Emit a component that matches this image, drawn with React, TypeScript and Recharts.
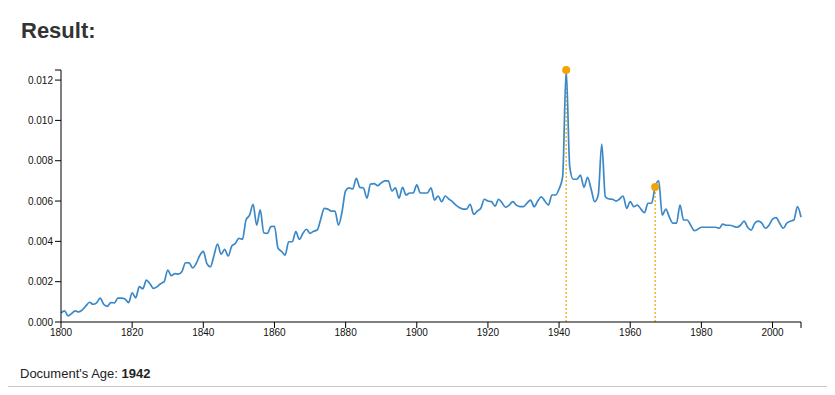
import { LineChart, Line, XAxis, YAxis, ReferenceLine, ReferenceDot } from 'recharts';

const START_YEAR = 1800;

// yearly frequency, 1800..2008
const frequency: number[] = [
  0.00045, 0.00055, 0.0003, 0.00042, 0.00055, 0.0005, 0.0006, 0.0008, 0.00098, 0.00088,
  0.00095, 0.00118, 0.00088, 0.00078, 0.00096, 0.00095, 0.00118, 0.00118, 0.00114, 0.00096,
  0.00145, 0.0012, 0.00175, 0.00165, 0.00208, 0.0019, 0.00167, 0.00175, 0.0019, 0.002,
  0.00258, 0.0023, 0.0024, 0.00237, 0.0025, 0.00294, 0.00293, 0.00268, 0.0029, 0.0033,
  0.0035, 0.0029, 0.00274, 0.0033, 0.00387, 0.00336, 0.0036, 0.00327, 0.00377, 0.0039,
  0.00415, 0.0041, 0.00506, 0.0053, 0.00584, 0.0048, 0.00556, 0.00443, 0.0044, 0.00473,
  0.00475, 0.00366, 0.0035, 0.00332, 0.00398, 0.00398, 0.00448, 0.0041, 0.0044, 0.0046,
  0.0044, 0.0045, 0.00456, 0.0051, 0.00564, 0.0056, 0.0055, 0.0055, 0.0048, 0.00547,
  0.00651, 0.00665, 0.0066, 0.00713, 0.00668, 0.00665, 0.00614, 0.00684, 0.00686, 0.00676,
  0.0069, 0.007, 0.007, 0.0065, 0.00665, 0.00614, 0.00668, 0.0063, 0.0064, 0.0064,
  0.0068, 0.0064, 0.0064, 0.0064, 0.00665, 0.00605, 0.00625, 0.00597, 0.00625, 0.0061,
  0.00597, 0.0058, 0.00567, 0.0056, 0.0056, 0.00584, 0.00534, 0.0055, 0.00564, 0.00609,
  0.006, 0.00597, 0.00575, 0.00609, 0.0059, 0.00569, 0.0058, 0.00597, 0.0058, 0.00572,
  0.00572, 0.0059, 0.00605, 0.00572, 0.006, 0.00621, 0.006, 0.0058, 0.0063, 0.0063,
  0.0066, 0.0072, 0.0125, 0.0077, 0.00708, 0.00708, 0.00729, 0.00668, 0.00717, 0.0066,
  0.00597, 0.0063, 0.00883, 0.00621, 0.0061, 0.00609, 0.006, 0.0061, 0.00625, 0.00564,
  0.00597, 0.00572, 0.0058, 0.0056, 0.00542, 0.00589, 0.00589, 0.0067, 0.007, 0.0053,
  0.0056, 0.0052, 0.0049, 0.0049, 0.0058, 0.00506, 0.00506, 0.0048, 0.00453, 0.0046,
  0.0047, 0.0047, 0.0047, 0.0047, 0.0047, 0.00465, 0.00485, 0.0048, 0.0048, 0.00475,
  0.0047, 0.0048, 0.005, 0.0047, 0.00456, 0.0049, 0.005, 0.0049, 0.00465, 0.0048,
  0.0051, 0.00518, 0.0049, 0.00465, 0.0049, 0.005, 0.00506, 0.00572, 0.0052,
];

const xTicks = [1800, 1820, 1840, 1860, 1880, 1900, 1920, 1940, 1960, 1980, 2000, 2008];
const yTicks = [0, 0.002, 0.004, 0.006, 0.008, 0.01, 0.012, 0.0125];

// highlighted years (document age candidates)
const markedYears = [1942, 1967];

const data = frequency.map((value, i) => ({ year: START_YEAR + i, value }));

const valueOf = (year: number) => frequency[year - START_YEAR];

const FONT = '"Liberation Sans", Arial, Helvetica, sans-serif';
const ORANGE = '#f5a300';

export default function App() {
  return (
    <div style={{ position: 'relative', width: 835, height: 395, margin: -8, fontFamily: FONT, background: '#fff' }}>
      <div style={{ position: 'absolute', left: 21, top: 18, fontSize: 22, fontWeight: 'bold', color: '#333' }}>
        Result:
      </div>

      <div style={{ position: 'absolute', left: 0, top: 0 }}>
        <LineChart
          width={835}
          height={350}
          data={data}
          margin={{ top: 70, right: 34, bottom: 8, left: 11 }}
        >
          <XAxis
            dataKey="year"
            type="number"
            domain={[1800, 2008]}
            ticks={xTicks}
            tickFormatter={(v: number) => (v === 2008 ? '' : String(v))}
            height={20}
            tickSize={6}
            tickMargin={1}
            stroke="#000"
            tick={{ fill: '#111', fontSize: 10 }}
            interval={0}
          />
          <YAxis
            type="number"
            domain={[0, 0.0125]}
            ticks={yTicks}
            tickFormatter={(v: number) => (v === 0.0125 ? '' : v.toFixed(3))}
            width={50}
            tickSize={6}
            tickMargin={2}
            stroke="#000"
            tick={{ fill: '#111', fontSize: 10 }}
            interval={0}
          />
          {markedYears.map((y) => (
            <ReferenceLine
              key={`line-${y}`}
              segment={[{ x: y, y: 0 }, { x: y, y: valueOf(y) }]}
              stroke={ORANGE}
              strokeDasharray="2 2"
              strokeWidth={1.2}
            />
          ))}
          <Line
            type="monotone"
            dataKey="value"
            stroke="#3b88c8"
            strokeWidth={1.7}
            dot={false}
            isAnimationActive={false}
          />
          {markedYears.map((y) => (
            <ReferenceDot key={`dot-${y}`} x={y} y={valueOf(y)} r={4} fill={ORANGE} stroke="none" />
          ))}
        </LineChart>
      </div>

      <div style={{ position: 'absolute', left: 20, top: 366, fontSize: 13, color: '#222' }}>
        Document's Age: <b>1942</b>
      </div>
      <div style={{ position: 'absolute', left: 0, top: 386, width: 835, height: 9, borderTop: '1px solid #c8c8c8', background: '#f2f2f2' }} />
    </div>
  );
}
